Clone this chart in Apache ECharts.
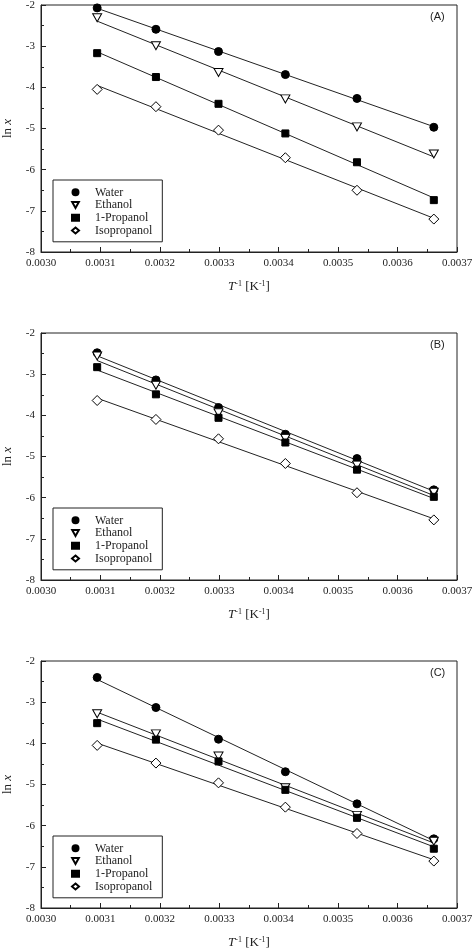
<!DOCTYPE html>
<html><head><meta charset="utf-8">
<script src="https://cdn.jsdelivr.net/npm/echarts@6/dist/echarts.min.js"></script>
<style>html,body{margin:0;padding:0;background:#fff}#c{width:474px;height:950px}</style>
</head><body><div id="c"></div>
<script>
// inverse temperature, K^-1
const invT = [0.0030945, 0.0031934, 0.0032987, 0.0034112, 0.0035317, 0.0036610];
const seriesNames = ['Water', 'Ethanol', '1-Propanol', 'Isopropanol'];
const panelLabels = ['(A)', '(B)', '(C)'];
// ln x values, panel A
const A_water = [-2.07, -2.59, -3.13, -3.69, -4.27, -4.97];
const A_ethanol = [-2.31, -2.99, -3.64, -4.28, -4.96, -5.62];
const A_propanol = [-3.17, -3.75, -4.40, -5.12, -5.82, -6.74];
const A_isopropanol = [-4.05, -4.47, -5.04, -5.71, -6.50, -7.20];
// panel B
const B_water = [-2.48, -3.14, -3.81, -4.46, -5.05, -5.81];
const B_ethanol = [-2.56, -3.27, -3.94, -4.56, -5.21, -5.87];
const B_propanol = [-2.83, -3.49, -4.06, -4.66, -5.32, -5.98];
const B_isopropanol = [-3.64, -4.10, -4.57, -5.17, -5.88, -6.54];
// panel C
const C_water = [-2.40, -3.13, -3.90, -4.69, -5.47, -6.32];
const C_ethanol = [-3.28, -3.77, -4.31, -5.08, -5.75, -6.38];
const C_propanol = [-3.51, -3.91, -4.44, -5.13, -5.81, -6.56];
const C_isopropanol = [-4.05, -4.48, -4.96, -5.55, -6.19, -6.86];
const xTicks = {min: 0.0030, max: 0.0037, step: 0.0001};
const yTicks = {min: -8, max: -2, step: 1};

const panels = [
  [A_water, A_ethanol, A_propanol, A_isopropanol],
  [B_water, B_ethanol, B_propanol, B_isopropanol],
  [C_water, C_ethanol, C_propanol, C_isopropanol]
];
const gridTops = [5, 333, 661];
const gridH = 247;
const serif = 'Liberation Serif';

const symbols = [
  {symbol: 'circle', size: 8, fill: '#000'},
  {symbol: 'path://M0,0 L10,0 L5,9 Z', size: [9, 8], fill: '#fff'},
  {symbol: 'rect', size: 7, fill: '#000'},
  {symbol: 'diamond', size: [10, 10], fill: '#fff'}
];

function fit(xs, ys) {
  const n = xs.length;
  let sx = 0, sy = 0, sxx = 0, sxy = 0;
  for (let i = 0; i < n; i++) { sx += xs[i]; sy += ys[i]; sxx += xs[i]*xs[i]; sxy += xs[i]*ys[i]; }
  const b = (n*sxy - sx*sy) / (n*sxx - sx*sx);
  const a = (sy - b*sx) / n;
  return [[xs[0], a + b*xs[0]], [xs[n-1], a + b*xs[n-1]]];
}

const grid = [], xAxis = [], yAxis = [], series = [], legend = [], graphic = [];
panels.forEach((p, k) => {
  grid.push({left: 41, right: 17, top: gridTops[k], height: gridH, show: true, borderColor: '#222', borderWidth: 1,
    backgroundColor: 'transparent', containLabel: false, outerBoundsMode: 'none'});
  xAxis.push({
    type: 'value', gridIndex: k, min: xTicks.min, max: xTicks.max, interval: xTicks.step,
    axisLine: {lineStyle: {color: '#222', width: 1}},
    axisTick: {inside: true, length: 5, lineStyle: {color: '#222'}},
    minorTick: {show: true, splitNumber: 2, length: 3, lineStyle: {color: '#222'}},
    splitLine: {show: false},
    axisLabel: {fontFamily: serif, fontSize: 11, color: '#222', margin: 6, formatter: v => v.toFixed(4)},
    name: '{i|T}{s|-1} [K{s|-1}]', nameLocation: 'middle', nameGap: 28,
    nameTextStyle: {fontFamily: serif, fontSize: 13, color: '#222',
      rich: {i: {fontFamily: serif, fontStyle: 'italic', fontSize: 13, color: '#222'},
             s: {fontFamily: serif, fontSize: 8, color: '#222', verticalAlign: 'top', lineHeight: 13}}}
  });
  yAxis.push({
    type: 'value', gridIndex: k, min: yTicks.min, max: yTicks.max, interval: yTicks.step,
    axisLine: {show: true, lineStyle: {color: '#222', width: 1}},
    axisTick: {show: true, inside: true, length: 5, lineStyle: {color: '#222'}},
    minorTick: {show: true, splitNumber: 2, length: 3, lineStyle: {color: '#222'}},
    splitLine: {show: false},
    axisLabel: {fontFamily: serif, fontSize: 11, color: '#222', margin: 6},
    name: 'ln {i|x}', nameLocation: 'middle', nameGap: 27, nameRotate: 90,
    nameTextStyle: {fontFamily: serif, fontSize: 13, color: '#222',
      rich: {i: {fontFamily: serif, fontStyle: 'italic', fontSize: 13, color: '#222'}}}
  });
  const names = [];
  p.forEach((ys, j) => {
    const nm = seriesNames[j];
    names.push(nm);
    const sy = symbols[j];
    series.push({
      type: 'line', xAxisIndex: k, yAxisIndex: k, data: fit(invT, ys), showSymbol: false, symbol: 'none',
      lineStyle: {color: '#222', width: 1}, silent: true, z: 2, legendHoverLink: false
    });
    series.push({
      type: 'scatter', name: nm, xAxisIndex: k, yAxisIndex: k,
      data: invT.map((x, i) => [x, ys[i]]),
      symbol: sy.symbol, symbolSize: sy.size,
      itemStyle: {color: sy.fill, borderColor: '#000', borderWidth: 1, opacity: 1}, z: 3
    });
  });
  legend.push({
    orient: 'vertical', left: 53, top: gridTops[k] + 175,
    data: names, itemWidth: 7, itemHeight: 6, itemGap: 0,
    padding: [6, 10, 5, 18], borderColor: '#222', borderWidth: 1,
    textStyle: {fontFamily: serif, fontSize: 12, lineHeight: 12.7, color: '#222', padding: [0, 0, 0, 11]},
    selectedMode: false
  });
  graphic.push({type: 'text', left: 430, top: gridTops[k] + 6,
    style: {text: panelLabels[k], font: '11px Liberation Sans', fill: '#222'}});
});

const chart = echarts.init(document.getElementById('c'), null, {renderer: 'canvas'});
chart.setOption({animation: false, backgroundColor: '#fff', grid, xAxis, yAxis, series, legend, graphic});
</script></body></html>
